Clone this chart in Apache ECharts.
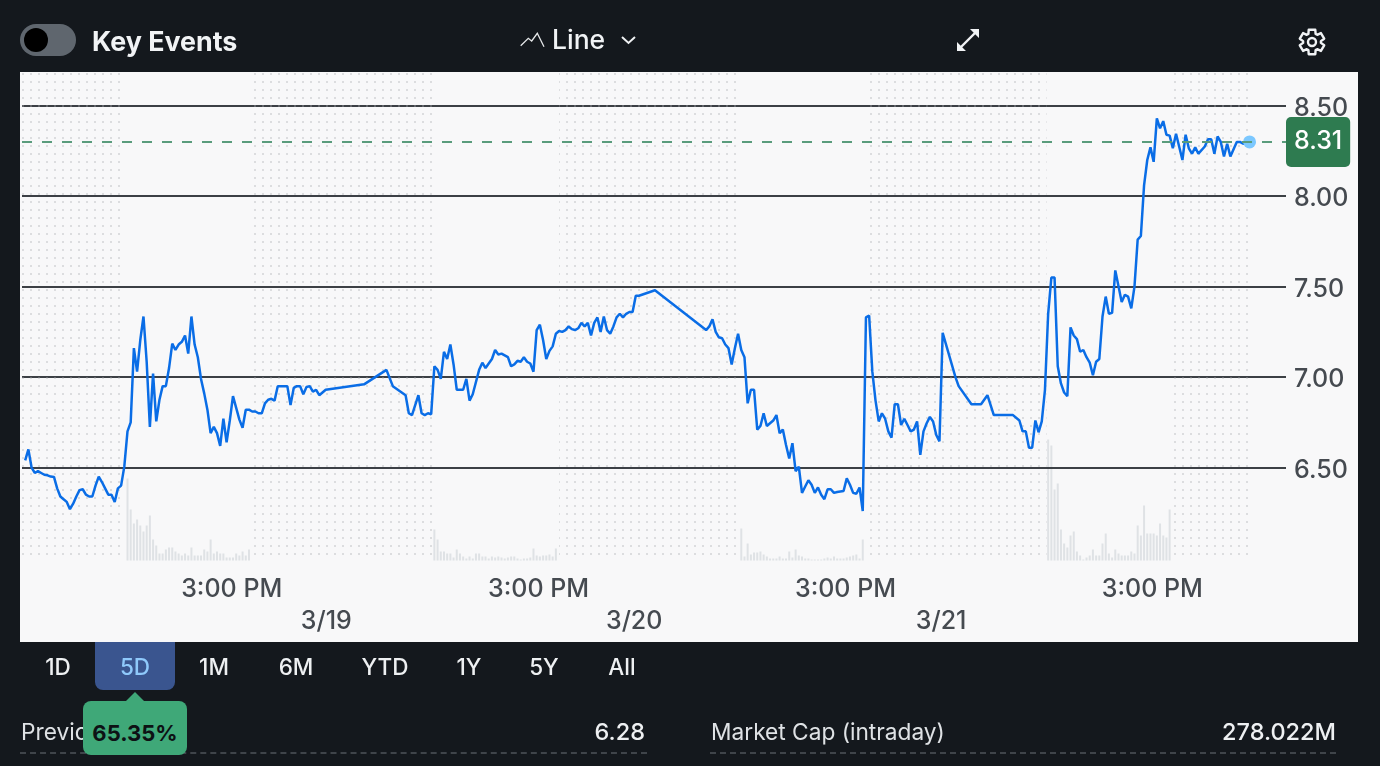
<!DOCTYPE html>
<html>
<head>
    <meta charset="utf-8">
    <title>5D price chart</title>
    <script src="https://cdn.jsdelivr.net/npm/echarts@6/dist/echarts.min.js"></script>
    <style>
        html, body { margin: 0; padding: 0; background: #14181d; }
        body { width: 1380px; height: 766px; overflow: hidden; position: relative; font-family: Inter, "Noto Sans", sans-serif; color: #f1f3f5; }
        #panel { position: absolute; left: 20px; top: 72px; width: 1338px; height: 570px; background: #f8f8f9; }
        #chart { position: absolute; left: 0; top: 0; width: 1380px; height: 766px; }
        .abs { position: absolute; white-space: nowrap; }
        .tab { position: absolute; top: 654px; font-size: 22.5px; line-height: 26px; font-weight: 500; transform: translateX(-50%); color: #eef0f2; }
        .stat { font-size: 22.7px; line-height: 26px; color: #dfe2e5; }
        .val { font-size: 23.5px; line-height: 26px; color: #eef0f2; font-weight: 500; }
        .dash { position: absolute; top: 752px; height: 0; border-top: 2px dashed #3f444a; }
    </style>
</head>
<body>
    <div id="panel"></div>
    <div id="chart"></div>

    <!-- header -->
    <div class="abs" style="left:20px;top:24px;width:56px;height:32px;border-radius:16px;background:#5f666e"></div>
    <div class="abs" style="left:24px;top:28px;width:24px;height:24px;border-radius:12px;background:#000"></div>
    <div class="abs" style="left:92px;top:24px;font-size:26.8px;line-height:34px;font-weight:700">Key Events</div>
    <svg class="abs" style="left:518px;top:30px" width="28" height="20" fill="none" stroke="#e6e8ea" stroke-width="1.3"><path d="M2.7 15.7 L10.3 8.3 L13.7 11 L19.3 3.3 L26 16.7"/></svg>
    <div class="abs" style="left:552px;top:22px;font-size:26.5px;line-height:34px;font-weight:500">Line</div>
    <svg class="abs" style="left:620px;top:34px" width="16" height="12" fill="none" stroke="#eef0f2" stroke-width="2"><path d="M2 3 L8.5 9 L15 3"/></svg>
    <svg class="abs" style="left:955px;top:27px" width="26" height="26" fill="#f1f3f5" stroke="#f1f3f5" stroke-width="2.4"><path d="M5 21 L21 5" fill="none"/><path d="M2 24 V15 L11 24 Z M24 2 H15 L24 11 Z" stroke="none"/></svg>
    <svg class="abs" style="left:1298px;top:28px" width="28" height="28" fill="none" stroke="#f1f3f5" stroke-width="2.4" stroke-linejoin="round"><path id="gear"/><circle cx="14" cy="14" r="4"/></svg>

    <!-- range tabs -->
    <div class="abs" style="left:95px;top:642px;width:80px;height:48px;background:#3a558f;border-radius:0 0 8px 8px"></div>
    <div class="tab" style="left:58px">1D</div>
    <div class="tab" style="left:135px;color:#8fc9fb">5D</div>
    <div class="tab" style="left:214px">1M</div>
    <div class="tab" style="left:296px">6M</div>
    <div class="tab" style="left:385px">YTD</div>
    <div class="tab" style="left:469px">1Y</div>
    <div class="tab" style="left:544px">5Y</div>
    <div class="tab" style="left:622px">All</div>

    <!-- stats row -->
    <div class="abs stat" style="left:21px;top:719px">Previous Close</div>
    <div class="abs val" style="right:735px;top:719px">6.28</div>
    <div class="dash" style="left:20px;width:627px"></div>
    <div class="abs stat" style="left:711px;top:719px">Market Cap (intraday)</div>
    <div class="abs val" style="right:44px;top:719px">278.022M</div>
    <div class="dash" style="left:710px;width:626px"></div>

    <!-- change tooltip -->
    <svg class="abs" style="left:125px;top:692px" width="20" height="10"><path d="M0 10 L10 0 L20 10 Z" fill="#3fa878"/></svg>
    <div class="abs" style="left:83px;top:701px;width:104px;height:54px;border-radius:8px;background:#3fa878;color:#0d1114;font-size:22px;font-weight:700;line-height:64px;text-align:center">65.35%</div>

    <script type="text/javascript">
        // x is counted in 10 minute slots, slot 0 = 4:00 AM of the first day, 96 slots per day
        var priceSlots = [1,2,3,4,5,6,7,8,9,10,11,12,13,14,15,16,17,18,19,20,21,22,23,24,25,26,27,28,29,30,31,32,33,34,35,36,37,38,39,40,41,42,43,44,45,46,47,48,49,50,51,52,53,54,55,56,57,58,59,60,61,62,63,64,65,66,67,68,69,70,71,72,73,74,75,76,77,78,79,80,81,83,84,85,86,87,88,89,90,91,92,93,95,107,114,116,120,121,122,124,125,126,127,128,129,130,131,132,133,134,135,136,138,139,140,141,143,144,145,146,147,148,149,150,151,152,153,154,155,156,157,158,159,160,161,162,163,164,165,166,167,168,169,170,171,172,173,174,175,176,177,178,179,180,181,182,183,184,185,186,187,188,189,190,191,192,193,198,214,215,216,217,218,219,220,221,222,223,224,225,226,227,228,229,230,231,232,233,234,235,236,237,238,239,240,241,242,243,244,245,246,247,248,249,250,251,252,253,254,255,257,258,259,260,261,262,263,264,265,266,267,268,269,270,271,272,273,274,275,276,277,278,279,280,281,282,283,284,285,286,287,288,292,293,297,300,302,304,310,312,313,314,315,316,317,318,319,320,321,322,323,324,325,326,327,328,329,330,331,332,333,334,335,336,337,338,339,340,341,342,344,345,346,347,348,349,350,351,352,353,354,355,356,357,358,359,360,361,363,364,365,366,367,368,370,371,372,373,374,375,376,377,378,380,381,382,384];
        var prices = [6.54,6.60,6.50,6.47,6.48,6.47,6.46,6.457,6.45,6.448,6.385,6.34,6.325,6.31,6.27,6.30,6.34,6.375,6.38,6.35,6.34,6.34,6.40,6.45,6.42,6.385,6.35,6.35,6.31,6.385,6.40,6.505,6.70,6.75,7.16,7.03,7.205,7.335,7.085,6.725,7.02,6.755,6.875,6.95,6.95,7.05,7.185,7.15,7.18,7.195,7.23,7.13,7.335,7.18,7.11,6.99,6.91,6.82,6.69,6.725,6.69,6.62,6.77,6.64,6.76,6.895,6.83,6.765,6.72,6.82,6.82,6.81,6.81,6.80,6.80,6.855,6.875,6.88,6.87,6.95,6.95,6.95,6.845,6.94,6.95,6.95,6.905,6.945,6.95,6.92,6.93,6.90,6.93,6.96,7.04,6.95,6.90,6.80,6.79,6.90,6.80,6.79,6.80,6.795,7.06,7.04,6.99,7.14,7.10,7.18,7.07,6.93,6.93,6.99,6.87,6.905,7.04,7.08,7.05,7.075,7.10,7.15,7.125,7.13,7.12,7.11,7.06,7.07,7.09,7.085,7.11,7.085,7.075,7.03,7.26,7.29,7.205,7.10,7.145,7.17,7.24,7.255,7.25,7.26,7.28,7.265,7.26,7.27,7.30,7.28,7.30,7.23,7.30,7.33,7.25,7.335,7.26,7.24,7.28,7.33,7.35,7.33,7.35,7.36,7.36,7.45,7.45,7.48,7.26,7.28,7.32,7.25,7.22,7.215,7.18,7.16,7.07,7.16,7.24,7.15,7.11,6.855,6.93,6.93,6.71,6.73,6.80,6.73,6.745,6.76,6.79,6.69,6.71,6.625,6.55,6.635,6.48,6.505,6.36,6.395,6.43,6.405,6.36,6.39,6.35,6.325,6.38,6.38,6.36,6.365,6.37,6.44,6.405,6.36,6.355,6.39,6.26,7.33,7.34,7.03,6.87,6.755,6.80,6.77,6.70,6.665,6.85,6.85,6.735,6.77,6.735,6.70,6.71,6.755,6.57,6.70,6.745,6.78,6.755,6.68,6.645,7.245,7.00,6.95,6.85,6.85,6.90,6.79,6.79,6.76,6.70,6.70,6.61,6.61,6.76,6.695,6.755,6.93,7.35,7.55,7.55,7.06,6.965,6.915,6.895,7.275,7.23,7.21,7.14,7.15,7.11,7.08,7.01,7.085,7.10,7.335,7.445,7.35,7.355,7.59,7.415,7.455,7.445,7.38,7.50,7.76,7.78,8.06,8.20,8.27,8.19,8.43,8.375,8.415,8.34,8.335,8.265,8.345,8.20,8.34,8.265,8.235,8.27,8.235,8.275,8.315,8.315,8.235,8.33,8.30,8.22,8.29,8.22,8.30,8.30,8.29,8.30];

        // volume of the regular session of each day, relative units
        var volumeDay1 = [82,51,37,41,35,29,35,45,21,15,7,7,11,13,13,9,7,5,7,5,13,5,5,5,11,9,21,7,9,7,7,3,3,3,7,5,9,5,11];
        var volumeDay2 = [31,21,9,9,7,7,3,11,7,4,2,4,2,7,7,4,4,2,4,3,4,3,2,3,4,4,2,1,2,2,3,12,5,4,5,5,6,4,12];
        var volumeDay3 = [32,4,17,6,8,8,9,6,4,2,2,2,4,2,2,9,3,11,5,4,2,2,1,1,1,1,2,3,2,4,2,2,2,3,4,5,6,2,21];
        var volumeDay4 = [121,115,71,77,31,17,13,25,29,9,5,1,3,5,11,5,5,17,27,7,3,11,7,5,5,5,9,7,35,25,55,27,27,27,25,37,25,23,51];
        var volumeDays = [volumeDay1, volumeDay2, volumeDay3, volumeDay4];
        var volumeStartSlots = [33, 129, 225, 321];

        // extended hours (dotted background), from/to slot
        var extendedFrom = [0, 72, 168, 264, 360];
        var extendedTo = [31.5, 128.5, 224.5, 320.5, 383.7];

        var priceTicks = [6.5, 7, 7.5, 8, 8.5];
        var timeTickSlots = [65.6, 161.6, 257.6, 353.6];
        var timeTickLabels = ['3:00 PM', '3:00 PM', '3:00 PM', '3:00 PM'];
        var dateTickSlots = [95.2, 191.5, 287.5];
        var dateTickLabels = ['3/19', '3/20', '3/21'];
        var lastPriceLine = 8.30;
        var lastPriceLabel = '8.31';

        var priceMin = 6, priceMax = 8.6866, slotMax = 395.4;

        var linePoints = priceSlots.map(function (s, i) { return [s, prices[i]]; });
        var barPoints = [];
        volumeDays.forEach(function (day, d) {
            day.forEach(function (v, i) { barPoints.push([volumeStartSlots[d] + i, v]); });
        });

        // gear icon outline, six teeth
        var gearPath = '';
        for (var t = 0; t < 6; t++) {
            [[-15, 12.6], [15, 12.6], [24, 8.9], [36, 8.9]].forEach(function (p, i) {
                var a = (t * 60 + 30 + p[0]) * Math.PI / 180;
                gearPath += (t === 0 && i === 0 ? 'M' : 'L') + (14 + p[1] * Math.cos(a)).toFixed(1) + ' ' + (14 + p[1] * Math.sin(a)).toFixed(1) + ' ';
            });
        }
        document.getElementById('gear').setAttribute('d', gearPath + 'Z');

        // 8px dot tile for the extended hours areas
        var dotTile = document.createElement('canvas');
        dotTile.width = 8;
        dotTile.height = 8;
        var ctx = dotTile.getContext('2d');
        ctx.fillStyle = 'rgba(170,172,176,0.35)';
        ctx.fillRect(6, 1, 2, 2);

        var areas = extendedFrom.map(function (from, i) {
            return [{ xAxis: from, yAxis: priceMin }, { xAxis: extendedTo[i], yAxis: priceMax }];
        });

        var tickFont = { fontFamily: 'Inter', fontSize: 25, fontWeight: 500, color: '#454a50' };
        var myChart = echarts.init(document.getElementById('chart'));
        var option = {
            animation: false,
            backgroundColor: 'transparent',
            grid: [
                { left: 22, right: 94, top: 72, bottom: 208 },
                { left: 22, right: 94, top: 435.5, bottom: 205.5 }
            ],
            xAxis: [
                {
                    type: 'value', gridIndex: 0, min: 0, max: slotMax,
                    axisLine: { show: false }, axisTick: { show: false }, splitLine: { show: false },
                    axisLabel: Object.assign({
                        margin: 19,
                        customValues: timeTickSlots,
                        formatter: function (v) { return timeTickLabels[timeTickSlots.indexOf(v)]; }
                    }, tickFont)
                },
                {
                    type: 'value', gridIndex: 0, min: 0, max: slotMax, position: 'bottom', offset: 32,
                    axisLine: { show: false }, axisTick: { show: false }, splitLine: { show: false },
                    axisLabel: Object.assign({
                        margin: 19,
                        customValues: dateTickSlots,
                        formatter: function (v) { return dateTickLabels[dateTickSlots.indexOf(v)]; }
                    }, tickFont)
                },
                { type: 'value', gridIndex: 1, min: 0, max: slotMax, show: false }
            ],
            yAxis: [
                {
                    type: 'value', gridIndex: 0, position: 'right', min: priceMin, max: priceMax, interval: 0.5,
                    axisLine: { show: false }, axisTick: { show: false },
                    splitLine: { show: true, showMinLine: false, showMaxLine: false, lineStyle: { color: '#3c4045', width: 2 } },
                    axisLabel: Object.assign({
                        margin: 8,
                        verticalAlign: 'top',
                        lineHeight: 5,
                        customValues: priceTicks,
                        formatter: function (v) { return v.toFixed(2); }
                    }, tickFont)
                },
                { type: 'value', gridIndex: 1, min: 0, max: 125, show: false }
            ],
            series: [
                {
                    name: 'volume', type: 'bar', xAxisIndex: 2, yAxisIndex: 1, z: -1,
                    barWidth: 2, itemStyle: { color: '#dfe2e5' }, silent: true,
                    data: barPoints
                },
                {
                    name: 'price', type: 'line', xAxisIndex: 0, yAxisIndex: 0, z: 3,
                    showSymbol: false, symbol: 'none',
                    lineStyle: { color: '#0a6de6', width: 2.5 },
                    data: linePoints,
                    markArea: {
                        silent: true, z: 1,
                        itemStyle: { color: { image: dotTile, repeat: 'repeat' } },
                        data: areas
                    },
                    markLine: {
                        silent: true, symbol: 'none', precision: 2,
                        lineStyle: { color: '#5a9c7c', type: [10, 10], width: 2 },
                        label: {
                            show: true, position: 'end', distance: 0,
                            formatter: lastPriceLabel,
                            fontFamily: 'Inter', fontSize: 25, fontWeight: 500, color: '#ffffff',
                            backgroundColor: '#2e7b50', borderRadius: 5,
                            padding: [17, 8, 8, 8]
                        },
                        data: [{ yAxis: lastPriceLine }]
                    }
                },
                {
                    name: 'last', type: 'scatter', xAxisIndex: 0, yAxisIndex: 0, z: 4,
                    symbolSize: 13, itemStyle: { color: '#7cc8ff', opacity: 1 }, silent: true,
                    data: [[priceSlots[priceSlots.length - 1], lastPriceLine]]
                }
            ]
        };
        myChart.setOption(option);
    </script>
</body>
</html>
